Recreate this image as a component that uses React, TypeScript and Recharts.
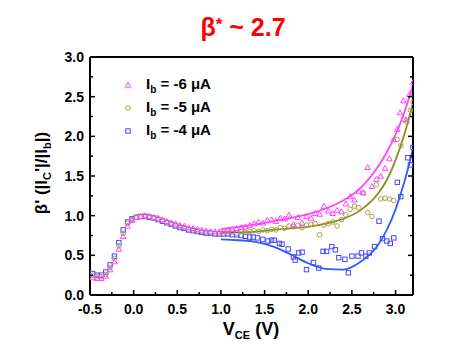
import React from 'react';
import { ComposedChart, Scatter, Line, XAxis, YAxis, Legend } from 'recharts';

// V_CE sweep where the three curves overlap
const vce = [
  -0.47, -0.42, -0.37, -0.32, -0.27, -0.22, -0.17, -0.12, -0.07, -0.02,
  0.03, 0.08, 0.13, 0.18, 0.23, 0.28, 0.33, 0.38, 0.43, 0.48,
  0.53, 0.58, 0.63, 0.68, 0.73, 0.78, 0.83, 0.88, 0.93, 0.98,
];

const ib6Head = [
  0.22, 0.21, 0.21, 0.24, 0.32, 0.42, 0.58, 0.74, 0.87, 0.94,
  0.98, 0.99, 1.0, 0.99, 0.98, 0.97, 0.95, 0.93, 0.91, 0.9,
  0.88, 0.87, 0.85, 0.84, 0.83, 0.82, 0.81, 0.8, 0.8, 0.8,
];
const ib5Head = [
  0.25, 0.23, 0.23, 0.26, 0.35, 0.46, 0.62, 0.78, 0.9, 0.95,
  0.98, 0.99, 1.0, 0.99, 0.97, 0.96, 0.94, 0.92, 0.9, 0.88,
  0.86, 0.85, 0.83, 0.82, 0.81, 0.8, 0.79, 0.79, 0.78, 0.78,
];
const ib4Head = [
  0.27, 0.25, 0.25, 0.29, 0.38, 0.49, 0.66, 0.82, 0.92, 0.96,
  0.98, 0.99, 0.99, 0.98, 0.97, 0.95, 0.93, 0.91, 0.89, 0.87,
  0.85, 0.84, 0.82, 0.81, 0.8, 0.79, 0.78, 0.78, 0.77, 0.77,
];

// noisy high-bias part, one x list per series
const ib6TailX = [
  1.03, 1.08, 1.13, 1.18, 1.23, 1.28, 1.33, 1.38, 1.43, 1.48, 1.53, 1.58, 1.63,
  1.68, 1.73, 1.78, 1.83, 1.88, 1.93, 1.98, 2.03, 2.08, 2.13, 2.18, 2.23, 2.28,
  2.33, 2.38, 2.43, 2.48, 2.53, 2.58, 2.63, 2.68, 2.73, 2.78, 2.83, 2.88, 2.93,
  2.98, 3.02, 3.05, 3.09, 3.12, 3.16, 3.2,
];
const ib6TailY = [
  0.81, 0.82, 0.83, 0.84, 0.85, 0.86, 0.88, 0.9, 0.92, 0.91, 0.94, 0.95, 0.93,
  0.97, 0.96, 1.01, 0.89, 0.98, 0.91, 0.99, 0.97, 1.03, 1.02, 1.12, 1.06, 1.03,
  1.07, 1.05, 1.15, 1.24, 1.2, 1.31, 1.29, 1.61, 1.37, 1.46, 1.5, 1.6, 1.72,
  1.96, 2.09, 2.3, 2.45, 2.21, 2.53, 2.68,
];

const ib5TailX = [
  1.03, 1.08, 1.13, 1.18, 1.23, 1.28, 1.33, 1.38, 1.43, 1.48, 1.53, 1.58, 1.63,
  1.68, 1.73, 1.78, 1.83, 1.88, 1.93, 1.98, 2.03, 2.08, 2.13, 2.18, 2.23, 2.28,
  2.33, 2.38, 2.43, 2.48, 2.53, 2.58, 2.63, 2.68, 2.73, 2.78, 2.83, 2.88, 2.93,
  2.98, 3.02, 3.06, 3.1, 3.13, 3.17, 3.2,
];
const ib5TailY = [
  0.78, 0.78, 0.79, 0.78, 0.8, 0.79, 0.8, 0.81, 0.8, 0.82, 0.81, 0.83, 0.82,
  0.85, 0.84, 0.87, 0.86, 0.88, 0.85, 0.88, 0.89, 0.9, 0.76, 0.88, 0.9, 0.92,
  0.87, 0.95, 1.01, 1.08, 1.12, 1.1, 1.29, 1.04, 0.99, 1.39, 1.21, 1.22, 1.21,
  1.19, 1.96, 1.88, 2.21, 2.18, 2.33, 2.43,
];

const ib4TailX = [
  1.03, 1.08, 1.13, 1.18, 1.23, 1.28, 1.33, 1.37, 1.42, 1.48, 1.54, 1.58, 1.61,
  1.67, 1.7, 1.77, 1.83, 1.85, 1.89, 1.93, 1.98, 2.06, 2.12, 2.17, 2.21, 2.27,
  2.31, 2.35, 2.42, 2.46, 2.5, 2.57, 2.61, 2.66, 2.7, 2.76, 2.81, 2.85, 2.9,
  2.94, 2.98, 3.02, 3.06, 3.14, 3.17, 3.2,
];
const ib4TailY = [
  0.77, 0.77, 0.76, 0.76, 0.75, 0.74, 0.73, 0.73, 0.72, 0.7, 0.68, 0.69, 0.69,
  0.65, 0.64, 0.58, 0.48, 0.44, 0.53, 0.54, 0.32, 0.41, 0.34, 0.55, 0.55, 0.61,
  0.57, 0.47, 0.45, 0.28, 0.49, 0.49, 0.53, 0.49, 0.53, 0.61, 0.93, 0.71, 0.68,
  0.65, 0.72, 1.42, 1.24, 1.73, 1.64, 1.86,
];

// fitted curves
const fitX = [1.0, 1.2, 1.4, 1.6, 1.8, 2.0, 2.2, 2.4, 2.6, 2.8, 2.9, 3.0, 3.1, 3.2];
const fit6 = [0.83, 0.86, 0.89, 0.93, 0.97, 1.02, 1.09, 1.19, 1.35, 1.62, 1.8, 2.02, 2.3, 2.65];
const fit5 = [0.78, 0.79, 0.8, 0.82, 0.84, 0.86, 0.9, 0.96, 1.07, 1.28, 1.45, 1.7, 2.02, 2.42];
const fit4 = [0.7, 0.69, 0.67, 0.61, 0.51, 0.4, 0.33, 0.32, 0.42, 0.63, 0.82, 1.08, 1.42, 1.84];

const ibLabels = ['-6', '-5', '-4'];

const xTicks = [-0.5, -0.25, 0, 0.25, 0.5, 0.75, 1, 1.25, 1.5, 1.75, 2, 2.25, 2.5, 2.75, 3];
const yTicks = [0, 0.25, 0.5, 0.75, 1, 1.25, 1.5, 1.75, 2, 2.25, 2.5, 2.75, 3];

const MAG = '#ff44ff';
const OLIVE_M = '#a6a64a';
const OLIVE_L = '#8c8c1c';
const BLUE_M = '#4848ff';
const BLUE_L = '#2f5cff';
const FONT = '"Liberation Sans", Arial, sans-serif';

const zip = (xs: number[], ys: number[]) => xs.map((x, i) => ({ x, y: ys[i] }));

const ib6Points = [...zip(vce, ib6Head), ...zip(ib6TailX, ib6TailY)];
const ib5Points = [...zip(vce, ib5Head), ...zip(ib5TailX, ib5TailY)];
const ib4Points = [...zip(vce, ib4Head), ...zip(ib4TailX, ib4TailY)];
const fit6Line = zip(fitX, fit6);
const fit5Line = zip(fitX, fit5);
const fit4Line = zip(fitX, fit4);

const isMajor = (v: number) => Math.abs(v * 2 - Math.round(v * 2)) < 1e-6;

const triangle = (cx: number, cy: number, color: string) => (
  <polygon
    points={`${cx},${cy - 2.8} ${cx - 2.8},${cy + 2.2} ${cx + 2.8},${cy + 2.2}`}
    fill="none"
    stroke={color}
    strokeWidth={1}
  />
);
const circle = (cx: number, cy: number, color: string) => (
  <circle cx={cx} cy={cy} r={2.3} fill="none" stroke={color} strokeWidth={1} />
);
const square = (cx: number, cy: number, color: string) => (
  <rect x={cx - 2.2} y={cy - 2.2} width={4.4} height={4.4} fill="none" stroke={color} strokeWidth={1} />
);

const TriShape = (p: any) => triangle(p.cx, p.cy, MAG);
const CircShape = (p: any) => circle(p.cx, p.cy, OLIVE_M);
const SqShape = (p: any) => square(p.cx, p.cy, BLUE_M);

// ticks point inward; labels drawn for major ticks only
const BottomTick = (p: any) => {
  const v = p.payload.value;
  const major = isMajor(v);
  return (
    <g>
      <line x1={p.x} y1={p.y} x2={p.x} y2={p.y - (major ? 5 : 3)} stroke="#000" strokeWidth={1.5} />
      {major && (
        <text x={p.x} y={p.y + 19} textAnchor="middle" fontSize={14} fontWeight="bold" fontFamily={FONT} fill="#000">
          {v.toFixed(1)}
        </text>
      )}
    </g>
  );
};
const TopTick = (p: any) => {
  const major = isMajor(p.payload.value);
  return <line x1={p.x} y1={p.y} x2={p.x} y2={p.y + (major ? 5 : 3)} stroke="#000" strokeWidth={1.5} />;
};
const LeftTick = (p: any) => {
  const v = p.payload.value;
  const major = isMajor(v);
  return (
    <g>
      <line x1={p.x} y1={p.y} x2={p.x + (major ? 5 : 3)} y2={p.y} stroke="#000" strokeWidth={1.5} />
      {major && (
        <text x={p.x - 6} y={p.y + 5} textAnchor="end" fontSize={14} fontWeight="bold" fontFamily={FONT} fill="#000">
          {v.toFixed(1)}
        </text>
      )}
    </g>
  );
};
const RightTick = (p: any) => {
  const major = isMajor(p.payload.value);
  return <line x1={p.x} y1={p.y} x2={p.x - (major ? 5 : 3)} y2={p.y} stroke="#000" strokeWidth={1.5} />;
};

const xTitle = () => (
  <text x={251} y={335} textAnchor="middle" fontSize={18} fontWeight="bold" fontFamily={FONT} fill="#000">
    V<tspan fontSize={11} dy={4}>CE</tspan>
    <tspan dy={-4}> (V)</tspan>
  </text>
);

const yTitle = () => (
  <text
    transform="translate(47,173) rotate(-90)"
    x={0}
    y={0}
    textAnchor="middle"
    fontSize={17}
    fontWeight="bold"
    fontFamily={FONT}
    fill="#000"
  >
    β' (|I<tspan fontSize={11} dy={4}>C</tspan>
    <tspan dy={-4}>'|/|I</tspan>
    <tspan fontSize={11} dy={4}>b</tspan>
    <tspan dy={-4}>|)</tspan>
  </text>
);

const legendMarks = [
  (cx: number, cy: number) => triangle(cx, cy, MAG),
  (cx: number, cy: number) => circle(cx, cy, OLIVE_M),
  (cx: number, cy: number) => square(cx, cy, BLUE_M),
];

const renderLegend = () => (
  <div style={{ fontFamily: FONT, fontWeight: 'bold', fontSize: 15, color: '#000' }}>
    {ibLabels.map((ib, i) => (
      <div key={ib} style={{ display: 'flex', alignItems: 'center', height: 23 }}>
        <svg width={26} height={10}>{legendMarks[i](8, 5)}</svg>
        <span>
          I<sub style={{ fontSize: 10 }}>b</sub> = {ib} μA
        </span>
      </div>
    ))}
  </div>
);

export default function App() {
  return (
    <div style={{ position: 'absolute', left: 0, top: 0, width: 475, height: 350, background: '#fff' }}>
      <div
        style={{
          position: 'absolute',
          left: 0,
          top: 13,
          width: 486,
          textAlign: 'center',
          color: '#ff0000',
          fontFamily: FONT,
          fontWeight: 'bold',
          fontSize: 25,
          zIndex: 2,
        }}
      >
        β<span style={{ fontSize: 17, verticalAlign: 6 }}>*</span> ~ 2.7
      </div>
      <ComposedChart width={475} height={350} margin={{ top: 56, right: 61, bottom: 25, left: 50 }}>
        <XAxis
          type="number"
          dataKey="x"
          domain={[-0.5, 3.2]}
          ticks={xTicks}
          interval={0}
          allowDataOverflow
          height={30}
          tickSize={0}
          tickMargin={0}
          tick={BottomTick}
          axisLine={{ stroke: '#000', strokeWidth: 2 }}
          label={xTitle}
        />
        <XAxis
          xAxisId="top"
          orientation="top"
          type="number"
          domain={[-0.5, 3.2]}
          ticks={xTicks}
          interval={0}
          allowDataOverflow
          height={1}
          tickSize={0}
          tickMargin={0}
          tick={TopTick}
          axisLine={{ stroke: '#000', strokeWidth: 2 }}
        />
        <YAxis
          type="number"
          dataKey="y"
          domain={[0, 3]}
          ticks={yTicks}
          interval={0}
          allowDataOverflow
          width={40}
          tickSize={0}
          tickMargin={0}
          tick={LeftTick}
          axisLine={{ stroke: '#000', strokeWidth: 2 }}
          label={yTitle}
        />
        <YAxis
          yAxisId="right"
          orientation="right"
          type="number"
          domain={[0, 3]}
          ticks={yTicks}
          interval={0}
          allowDataOverflow
          width={1}
          tickSize={0}
          tickMargin={0}
          tick={RightTick}
          axisLine={{ stroke: '#000', strokeWidth: 2 }}
        />
        <Legend
          content={renderLegend}
          layout="horizontal"
          verticalAlign="middle"
          align="center"
          wrapperStyle={{ left: 120, top: 73, width: 120 }}
        />
        <Scatter name="Ib = -4 μA" data={ib4Points} dataKey="y" shape={SqShape} isAnimationActive={false} />
        <Scatter name="Ib = -5 μA" data={ib5Points} dataKey="y" shape={CircShape} isAnimationActive={false} />
        <Scatter name="Ib = -6 μA" data={ib6Points} dataKey="y" shape={TriShape} isAnimationActive={false} />
        <Line data={fit4Line} dataKey="y" type="monotone" stroke={BLUE_L} strokeWidth={1.8} dot={false} isAnimationActive={false} />
        <Line data={fit5Line} dataKey="y" type="monotone" stroke={OLIVE_L} strokeWidth={1.8} dot={false} isAnimationActive={false} />
        <Line data={fit6Line} dataKey="y" type="monotone" stroke={MAG} strokeWidth={1.8} dot={false} isAnimationActive={false} />
      </ComposedChart>
    </div>
  );
}
